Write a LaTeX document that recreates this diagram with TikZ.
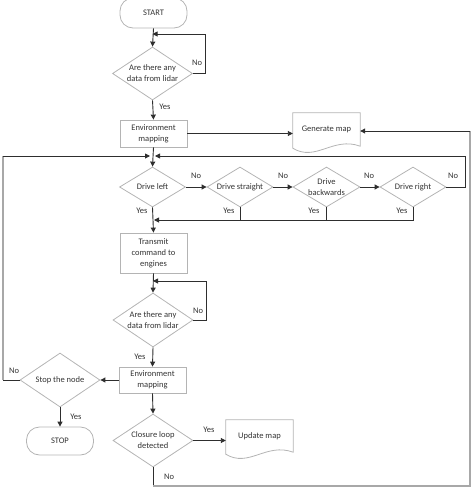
\documentclass[tikz,border=0pt]{standalone}
\usepackage{fontspec}
\setmainfont{Carlito}
\usetikzlibrary{shapes.geometric,arrows.meta,calc}
\definecolor{shapeline}{HTML}{B4B4B4}
\definecolor{linkcol}{HTML}{2E2E2E}
\definecolor{edgecol}{HTML}{A8A8A8}
\definecolor{txt}{HTML}{333333}
\tikzset{
 every node/.style={font=\fontsize{8.5}{11}\selectfont, text=txt},
 box/.style={draw=shapeline, line width=0.8pt, rectangle, minimum width=67pt, minimum height=27pt, inner sep=0pt, align=center},
 decision/.style={draw=shapeline, line width=0.8pt, diamond, inner sep=0pt, align=center},
 terminal/.style={draw=shapeline, line width=0.8pt, rectangle, rounded corners=13pt, minimum width=67pt, inner sep=0pt},
 docbox/.style={rectangle, minimum width=67pt, inner sep=0pt},
 docline/.style={draw=shapeline, line width=0.8pt},
 link/.style={draw=linkcol, line width=0.9pt},
 arr/.style={link, -{Triangle[length=5pt,width=5pt]}},
 edgelink/.style={draw=edgecol, line width=1.6pt},
 lbl/.style={inner sep=0pt},
}
\begin{document}
\begin{tikzpicture}[x=1pt,y=-1pt]
\useasboundingbox (0,0) rectangle (474,488);

% shapes
\node[terminal, minimum height=30pt] (start) at (153.5,13) {START};
\node[decision, minimum width=80pt, minimum height=53pt, shape aspect=1.5] (q1) at (152.5,73.5) {Are there any\\data from lidar};
\node[box] (env1) at (153.5,133.5) {Environment\\mapping};
\node[docbox, minimum height=33pt] (gen) at (326.5,129.5) {Generate map};
\draw[docline] (gen.north west) -- (gen.north east) -- (gen.south east)
  .. controls ($(gen.south east)+(-27,-10)$) and ($(gen.south west)+(23,16)$) .. ($(gen.south west)+(0,2)$) -- cycle;

\node[decision, minimum width=66pt, minimum height=40pt, shape aspect=1.65] (dl) at (152.5,187) {Drive left};
\node[decision, minimum width=66pt, minimum height=40pt, shape aspect=1.65] (ds) at (240,187) {Drive straight};
\node[decision, minimum width=67pt, minimum height=40pt, shape aspect=1.65] (db) at (326.5,187) {Drive\\backwards};
\node[decision, minimum width=66pt, minimum height=40pt, shape aspect=1.65] (dr) at (413,187) {Drive right};

\node[box, minimum height=40pt] (tr) at (153.5,253) {Transmit\\command to\\engines};
\node[decision, minimum width=80pt, minimum height=54pt, shape aspect=1.5] (q2) at (153,320) {Are there any\\data from lidar};
\node[box, minimum height=26pt] (env2) at (152.5,380) {Environment\\mapping};
\node[decision, minimum width=80pt, minimum height=54pt, shape aspect=1.5] (stopq) at (60,380) {Stop the node};
\node[terminal, minimum height=28pt] (stop) at (60,441) {STOP};
\node[decision, minimum width=80pt, minimum height=53pt, shape aspect=1.5] (cl) at (153,440.5) {Closure loop\\detected};
\node[docbox, minimum height=32pt] (upd) at (259.5,436) {Update map};
\draw[docline] (upd.north west) -- (upd.north east) -- (upd.south east)
  .. controls ($(upd.south east)+(-27,-10)$) and ($(upd.south west)+(23,16)$) .. ($(upd.south west)+(0,2)$) -- cycle;

% junction coordinates
\coordinate (j1) at (152.5,34);
\coordinate (jL) at (150,156);
\coordinate (jR) at (155,156);
\coordinate (jY) at (154,220);
\coordinate (j2) at (153,281);
\coordinate (cL1) at (3,380);
\coordinate (cL2) at (3,156);
\coordinate (cB) at (153,486);
\coordinate (cBR) at (470,486);
\coordinate (cTR) at (470,131);

% connectors
\draw[arr] (start.south) -- (q1.north);
\draw[arr] (q1.east) -- ++(13,0) |- (j1);
\draw[arr] (q1.south) -- (env1.north);
\draw[arr] (env1.east) -- (env1.east -| gen.west);
\draw[arr] (env1.south) -- (dl.north);
\draw[arr] (dl.east) -- (ds.west);
\draw[arr] (ds.east) -- (db.west);
\draw[arr] (db.east) -- (dr.west);
\draw[arr] (dr.east) -- ++(19,0) |- (jR);
\draw[link] (stopq.west) -- (cL1);
\draw[edgelink] (cL1) -- (cL2);
\draw[arr] (cL2) -- (jL);
\draw[arr] (dl.south) -- (tr.north);
\draw[arr] (dr.south) |- (jY);
\draw[link] (ds.south) -- (ds.south |- jY);
\draw[link] (db.south) -- (db.south |- jY);
\draw[arr] (tr.south) -- (q2.north);
\draw[arr] (q2.east) -- ++(13,0) |- (j2);
\draw[arr] (q2.south) -- (env2.north);
\draw[arr] (env2.west) -- (stopq.east);
\draw[arr] (stopq.south) -- (stop.north);
\draw[arr] (env2.south) -- (cl.north);
\draw[arr] (cl.east) -- (cl.east -| upd.west);
\draw[link] (cl.south) -- (cB);
\draw[edgelink] (cB) -- (cBR) -- (cTR);
\draw[arr] (cTR) -- (cTR -| gen.east);

% labels
\node[lbl] (l1) at (197,63) {No};
\node[lbl] (l2) at (165,107) {Yes};
\node[lbl] (l3) at (196,176) {No};
\node[lbl] (l4) at (283,176) {No};
\node[lbl] (l5) at (369,176) {No};
\node[lbl] (l6) at (453,176) {No};
\node[lbl] (l7) at (142,211) {Yes};
\node[lbl] (l8) at (229,211) {Yes};
\node[lbl] (l9) at (314,211) {Yes};
\node[lbl] (l10) at (402,211) {Yes};
\node[lbl] (l11) at (198,311) {No};
\node[lbl] (l12) at (140,357) {Yes};
\node[lbl] (l13) at (14,371) {No};
\node[lbl] (l14) at (76,417) {Yes};
\node[lbl] (l15) at (209,430) {Yes};
\node[lbl] (l16) at (169,477) {No};
\end{tikzpicture}
\end{document}
